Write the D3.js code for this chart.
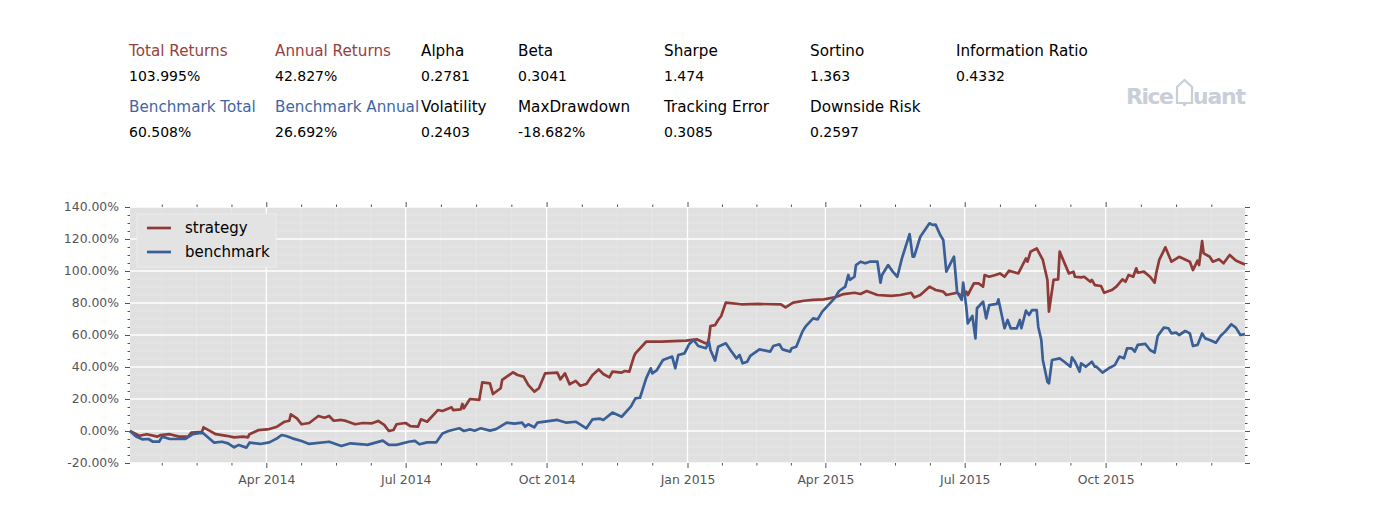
<!DOCTYPE html>
<html>
<head>
<meta charset="utf-8">
<script src="https://d3js.org/d3.v7.min.js"></script>
<style>
    body { margin: 0; background: white; }
    text { font-family: "DejaVu Sans", sans-serif; }
</style>
</head>
<body>
<script>
    // summary table
    let rowLabels1 = ["Total Returns", "Annual Returns", "Alpha", "Beta", "Sharpe", "Sortino", "Information Ratio"];
    let rowValues1 = ["103.995%", "42.827%", "0.2781", "0.3041", "1.474", "1.363", "0.4332"];
    let rowLabels2 = ["Benchmark Total", "Benchmark Annual", "Volatility", "MaxDrawdown", "Tracking Error", "Downside Risk"];
    let rowValues2 = ["60.508%", "26.692%", "0.2403", "-18.682%", "0.3085", "0.2597"];
    let colX = [129, 275, 421, 518, 664, 810, 956];

    let seriesNames = ["strategy", "benchmark"];
    let yTicks = [-20, 0, 20, 40, 60, 80, 100, 120, 140];

    // cumulative returns in %
    let strategy = [
        ["2014-01-02",0],["2014-01-08",-3],["2014-01-13",-2],["2014-01-20",-3.5],["2014-01-22",-2.5],
        ["2014-01-28",-2],["2014-02-03",-3.5],["2014-02-09",-3.5],["2014-02-11",-1],["2014-02-18",-0.5],
        ["2014-02-19",2.3],["2014-02-24",-0.4],["2014-02-27",-2],["2014-03-06",-3],["2014-03-11",-4],
        ["2014-03-17",-3.5],["2014-03-20",-4],["2014-03-21",-2],["2014-03-27",0.6],["2014-04-03",1.2],
        ["2014-04-08",2.7],["2014-04-13",5.8],["2014-04-16",6.4],["2014-04-17",10.4],["2014-04-21",7.9],
        ["2014-04-24",4.2],["2014-04-29",5.0],["2014-05-05",9.4],["2014-05-09",8.3],["2014-05-12",9.4],
        ["2014-05-15",6.4],["2014-05-20",6.9],["2014-05-23",6.3],["2014-05-29",4.2],["2014-06-03",5.0],
        ["2014-06-09",4.8],["2014-06-13",6.3],["2014-06-17",3.8],["2014-06-20",0],["2014-06-23",0.6],
        ["2014-06-25",4.2],["2014-07-01",5.0],["2014-07-04",3.1],["2014-07-09",2.7],["2014-07-11",7.3],
        ["2014-07-15",5.8],["2014-07-22",13.1],["2014-07-25",12.5],["2014-07-31",14.8],["2014-08-01",13.1],
        ["2014-08-06",13.5],["2014-08-07",16.9],["2014-08-08",14.2],["2014-08-12",20],["2014-08-18",19.4],
        ["2014-08-20",30.4],["2014-08-25",29.8],["2014-08-27",23.1],["2014-09-01",26.7],["2014-09-02",31.9],
        ["2014-09-09",36.7],["2014-09-12",35],["2014-09-16",34],["2014-09-19",28.8],["2014-09-23",24.6],
        ["2014-09-26",26.7],["2014-09-30",36],["2014-10-08",36.5],["2014-10-10",32.3],["2014-10-13",36],
        ["2014-10-16",29.2],["2014-10-20",31.3],["2014-10-23",28.3],["2014-10-27",29.4],["2014-10-31",35],
        ["2014-11-04",38.5],["2014-11-07",35.6],["2014-11-11",33.5],["2014-11-13",37.1],["2014-11-19",36.5],
        ["2014-11-21",37.5],["2014-11-24",37.1],["2014-11-27",46.5],["2014-11-28",48.5],["2014-12-05",55.8],
        ["2014-12-15",55.8],["2014-12-23",56.2],["2014-12-31",56.5],["2015-01-07",57.3],["2015-01-12",55.2],
        ["2015-01-14",54.4],["2015-01-15",57.9],["2015-01-16",65.6],["2015-01-19",66.2],["2015-01-21",69.4],
        ["2015-01-23",71.9],["2015-01-26",80.2],["2015-02-05",79.2],["2015-02-16",79.4],["2015-03-03",79.2],
        ["2015-03-06",77.3],["2015-03-11",80.2],["2015-03-18",81.4],["2015-03-24",81.9],["2015-03-31",82.3],
        ["2015-04-07",83.5],["2015-04-13",85.6],["2015-04-20",86.4],["2015-04-24",85.6],["2015-04-28",87.5],
        ["2015-05-05",85],["2015-05-14",84.4],["2015-05-20",85],["2015-05-27",86.4],["2015-05-29",83.5],
        ["2015-06-02",85],["2015-06-08",90.2],["2015-06-12",88.1],["2015-06-17",87.1],["2015-06-19",85],
        ["2015-06-26",86.4],["2015-06-29",84.4],["2015-07-02",87.1],["2015-07-03",85],["2015-07-07",92.3],
        ["2015-07-10",92.3],["2015-07-13",90.2],["2015-07-14",97.5],["2015-07-17",96.4],["2015-07-21",97.5],
        ["2015-07-24",98.5],["2015-07-27",96.4],["2015-07-30",100.2],["2015-08-05",98.5],["2015-08-10",107.9],
        ["2015-08-11",105.8],["2015-08-13",112.1],["2015-08-17",114.1],["2015-08-21",106.9],["2015-08-24",94.4],
        ["2015-08-25",74.6],["2015-08-28",94.4],["2015-08-31",94.8],["2015-09-01",112.1],["2015-09-07",98.5],
        ["2015-09-10",99.6],["2015-09-11",96.4],["2015-09-15",96],["2015-09-17",96.4],["2015-09-21",93.3],
        ["2015-09-22",94.4],["2015-09-24",91.2],["2015-09-28",90.6],["2015-09-30",86.4],["2015-10-05",88.1],
        ["2015-10-08",90.2],["2015-10-12",94.8],["2015-10-14",93.3],["2015-10-16",97.5],["2015-10-19",96.4],
        ["2015-10-21",101.7],["2015-10-22",98.9],["2015-10-26",99.6],["2015-10-30",96.4],["2015-11-02",92.7],
        ["2015-11-03",98.5],["2015-11-05",106.9],["2015-11-09",114.8],["2015-11-13",105.8],["2015-11-18",108.9],
        ["2015-11-25",105.8],["2015-11-27",100.6],["2015-11-30",106.5],["2015-12-01",103.7],["2015-12-03",118.7],
        ["2015-12-04",111],["2015-12-08",108.9],["2015-12-10",105.8],["2015-12-14",107.3],["2015-12-17",104.8],
        ["2015-12-21",110],["2015-12-25",106.5],["2015-12-29",104.8],["2015-12-31",104.0]
    ];

    let benchmark = [
        ["2014-01-02",0],["2014-01-06",-3.5],["2014-01-10",-5.2],["2014-01-14",-5],["2014-01-17",-6.7],
        ["2014-01-21",-6.7],["2014-01-23",-3.5],["2014-01-28",-5],["2014-02-03",-5],["2014-02-07",-5],
        ["2014-02-12",-2],["2014-02-17",-1.2],["2014-02-19",-1.5],["2014-02-26",-7.3],["2014-03-03",-6.7],
        ["2014-03-07",-7.7],["2014-03-11",-10.2],["2014-03-14",-8.7],["2014-03-19",-10.4],["2014-03-21",-7.3],
        ["2014-03-28",-8.1],["2014-04-03",-7.1],["2014-04-08",-4.6],["2014-04-11",-2.5],["2014-04-14",-3.1],
        ["2014-04-18",-4.6],["2014-04-24",-6.3],["2014-04-29",-8.1],["2014-05-12",-6.7],["2014-05-20",-9.4],
        ["2014-05-26",-7.7],["2014-06-03",-8.3],["2014-06-06",-8.7],["2014-06-16",-6.0],["2014-06-20",-8.7],
        ["2014-06-25",-8.7],["2014-07-03",-6.7],["2014-07-07",-6.2],["2014-07-10",-8.3],["2014-07-15",-7.1],
        ["2014-07-21",-7.1],["2014-07-25",-1.5],["2014-07-29",0],["2014-08-05",1.7],["2014-08-08",0],
        ["2014-08-12",1.0],["2014-08-15",0.2],["2014-08-19",1.7],["2014-08-25",0.2],["2014-08-29",1.2],
        ["2014-09-05",5.2],["2014-09-10",4.6],["2014-09-15",5.2],["2014-09-17",2.7],["2014-09-19",4.2],
        ["2014-09-23",2.3],["2014-09-25",5.2],["2014-10-08",6.9],["2014-10-14",5.2],["2014-10-20",5.8],
        ["2014-10-27",1.7],["2014-10-31",7.3],["2014-11-05",7.7],["2014-11-07",6.9],["2014-11-13",11.5],
        ["2014-11-19",8.9],["2014-11-25",15.2],["2014-11-28",20.4],["2014-12-01",20.8],["2014-12-05",32.9],
        ["2014-12-08",39.2],["2014-12-09",36],["2014-12-12",38.1],["2014-12-16",44.4],["2014-12-22",46.5],
        ["2014-12-24",39.2],["2014-12-26",47.5],["2014-12-30",48.5],["2015-01-02",54.2],["2015-01-05",56.9],
        ["2015-01-08",53.1],["2015-01-13",51.7],["2015-01-15",55.8],["2015-01-16",50.6],["2015-01-19",44],
        ["2015-01-21",52.7],["2015-01-26",54.8],["2015-01-29",50.6],["2015-02-02",45.4],["2015-02-04",47.5],
        ["2015-02-06",42.3],["2015-02-09",43.3],["2015-02-11",46.9],["2015-02-17",51],["2015-02-24",49.6],
        ["2015-02-26",53.1],["2015-03-02",54.2],["2015-03-04",51],["2015-03-09",49.6],["2015-03-10",51.7],
        ["2015-03-13",52.7],["2015-03-17",62.1],["2015-03-19",65.2],["2015-03-24",70.4],["2015-03-27",69.8],
        ["2015-03-30",74.6],["2015-04-02",77.7],["2015-04-07",82.9],["2015-04-10",87.5],["2015-04-14",90.2],
        ["2015-04-16",97.5],["2015-04-17",94.4],["2015-04-20",96.4],["2015-04-21",103.7],["2015-04-24",105.8],
        ["2015-04-27",104.8],["2015-04-30",105.8],["2015-05-05",105.8],["2015-05-07",92.7],["2015-05-08",97.5],
        ["2015-05-12",103.7],["2015-05-15",99.6],["2015-05-18",96.4],["2015-05-21",107.9],["2015-05-26",123.1],
        ["2015-05-28",109],["2015-05-29",109],["2015-06-02",121.4],["2015-06-08",129.8],["2015-06-10",128.8],
        ["2015-06-12",129],["2015-06-15",122.5],["2015-06-17",119.4],["2015-06-19",99.6],["2015-06-24",109],
        ["2015-06-26",87.1],["2015-06-29",81.9],["2015-06-30",92.7],["2015-07-02",77.7],["2015-07-03",67.3],
        ["2015-07-06",71.9],["2015-07-08",57.9],["2015-07-09",76.7],["2015-07-13",80.8],["2015-07-15",70.4],
        ["2015-07-17",78.7],["2015-07-22",79.4],["2015-07-23",82.3],["2015-07-27",64.2],["2015-07-29",69.4],
        ["2015-07-31",64.2],["2015-08-04",64.2],["2015-08-06",69.4],["2015-08-07",64.2],["2015-08-10",75.2],
        ["2015-08-12",72.5],["2015-08-14",75.6],["2015-08-17",75.6],["2015-08-18",65.2],["2015-08-20",56.9],
        ["2015-08-21",44.4],["2015-08-24",30.8],["2015-08-25",29.8],["2015-08-27",44.4],["2015-09-01",45.4],
        ["2015-09-04",43.3],["2015-09-08",40.2],["2015-09-09",46],["2015-09-11",43.3],["2015-09-14",37.1],
        ["2015-09-15",42.3],["2015-09-18",40.2],["2015-09-22",43.3],["2015-09-24",40.2],["2015-09-25",40.2],
        ["2015-09-29",36.5],["2015-10-03",39.2],["2015-10-07",41.2],["2015-10-10",46.5],["2015-10-13",45.4],
        ["2015-10-15",51.7],["2015-10-18",51.7],["2015-10-20",49.6],["2015-10-22",53.8],["2015-10-27",54.4],
        ["2015-10-30",50.6],["2015-11-02",49],["2015-11-04",59.4],["2015-11-08",64.6],["2015-11-11",64.2],
        ["2015-11-13",61],["2015-11-16",61.5],["2015-11-18",60],["2015-11-22",62.5],["2015-11-25",61],
        ["2015-11-27",53.1],["2015-11-30",53.8],["2015-12-03",61],["2015-12-05",57.9],["2015-12-08",56.9],
        ["2015-12-12",55.2],["2015-12-15",59.4],["2015-12-18",62.1],["2015-12-22",66.7],["2015-12-25",64.6],
        ["2015-12-28",60],["2015-12-31",60.5]
    ];

    let red = "#8e3a37", blue = "#3a5f97";
    let labelRed = "#97413d", labelBlue = "#3e66a6";

    let parse = d3.timeParse("%Y-%m-%d");
    let svg = d3.select("body").append("svg").attr("width", 1389).attr("height", 521);

    // header table
    let head = svg.append("g");
    rowLabels1.forEach((t, i) => {
        head.append("text").attr("x", colX[i]).attr("y", 56).attr("font-size", 15.2)
            .attr("fill", i < 2 ? labelRed : "#000").text(t);
        head.append("text").attr("x", colX[i]).attr("y", 81).attr("font-size", 14).text(rowValues1[i]);
    });
    rowLabels2.forEach((t, i) => {
        head.append("text").attr("x", colX[i]).attr("y", 112).attr("font-size", 15.2)
            .attr("fill", i < 2 ? labelBlue : "#000").text(t);
        head.append("text").attr("x", colX[i]).attr("y", 137).attr("font-size", 14).text(rowValues2[i]);
    });

    // logo
    let logoColor = "#c9ced7";
    let logo = svg.append("g").attr("fill", logoColor);
    logo.append("text").attr("x", 1126).attr("y", 104).attr("font-size", 22).attr("font-weight", 600)
        .attr("font-family", "Open Sans").attr("textLength", 48).text("Rice");
    logo.append("text").attr("x", 1193).attr("y", 104).attr("font-size", 22).attr("font-weight", 600)
        .attr("font-family", "Open Sans").attr("textLength", 53).text("uant");
    logo.append("path")
        .attr("d", "M1177,103 L1177,87 L1184.5,80 L1192,87 L1192,103 Z")
        .attr("fill", "none").attr("stroke", logoColor).attr("stroke-width", 2.2);
    logo.append("rect").attr("x", 1183).attr("y", 103).attr("width", 3).attr("height", 3);

    // plot
    let plotLeft = 130, plotTop = 207, w = 1115, h = 256;
    let x = d3.scaleTime().domain([parse("2014-01-02"), parse("2015-12-31")]).range([plotLeft, plotLeft + w]);
    let y = d3.scaleLinear().domain([-20, 140]).range([plotTop + h, plotTop]);

    svg.append("rect").attr("x", plotLeft).attr("y", plotTop).attr("width", w).attr("height", h).attr("fill", "#e0e0e0");

    // ticks: quarterly majors, 4 subdivisions
    let majors = x.ticks(d3.timeMonth.every(3));
    let minors = [];
    for (let i = 0; i < majors.length - 1; i++) {
        let a = +majors[i], b = +majors[i + 1];
        for (let k = 1; k < 4; k++) minors.push(new Date(a + (b - a) * k / 4));
    }
    let step0 = (+majors[1] - +majors[0]) / 4, stepN = (+majors[majors.length - 1] - +majors[majors.length - 2]) / 4;
    for (let t = +majors[0] - step0; t >= +x.domain()[0]; t -= step0) minors.push(new Date(t));
    for (let t = +majors[majors.length - 1] + stepN; t <= +x.domain()[1]; t += stepN) minors.push(new Date(t));

    let yMinors = d3.range(-20, 141, 5).filter(v => v % 20 != 0);

    let grid = svg.append("g");
    minors.forEach(d => grid.append("line").attr("x1", x(d)).attr("x2", x(d)).attr("y1", plotTop).attr("y2", plotTop + h)
        .attr("stroke", "#e9e9e9").attr("stroke-width", 0.8));
    yMinors.forEach(v => grid.append("line").attr("x1", plotLeft).attr("x2", plotLeft + w).attr("y1", y(v)).attr("y2", y(v))
        .attr("stroke", "#e9e9e9").attr("stroke-width", 0.8));
    majors.forEach(d => grid.append("line").attr("x1", x(d)).attr("x2", x(d)).attr("y1", plotTop).attr("y2", plotTop + h)
        .attr("stroke", "white").attr("stroke-width", 1.3));
    yTicks.forEach(v => grid.append("line").attr("x1", plotLeft).attr("x2", plotLeft + w).attr("y1", y(v)).attr("y2", y(v))
        .attr("stroke", "white").attr("stroke-width", 1.3));

    let fmt = d3.timeFormat("%b %Y");
    let styleAxis = g => {
        g.select(".domain").remove();
        g.selectAll("line").attr("stroke", "#555");
        g.selectAll("text").attr("fill", "#555").attr("font-size", 12.4).attr("font-family", "DejaVu Sans");
    };
    svg.append("g").attr("transform", `translate(0,${plotTop + h})`)
        .call(d3.axisBottom(x).tickValues(majors).tickFormat(fmt).tickSize(5).tickPadding(7)).call(styleAxis);
    svg.append("g").attr("transform", `translate(0,${plotTop + h})`)
        .call(d3.axisBottom(x).tickValues(minors).tickFormat("").tickSize(2.5)).call(styleAxis);
    svg.append("g").attr("transform", `translate(0,${plotTop})`)
        .call(d3.axisTop(x).tickValues(majors).tickFormat("").tickSize(5)).call(styleAxis);
    svg.append("g").attr("transform", `translate(0,${plotTop})`)
        .call(d3.axisTop(x).tickValues(minors).tickFormat("").tickSize(2.5)).call(styleAxis);
    svg.append("g").attr("transform", `translate(${plotLeft},0)`)
        .call(d3.axisLeft(y).tickValues(yTicks).tickFormat(v => v.toFixed(2) + "%").tickSize(5).tickPadding(6)).call(styleAxis);
    svg.append("g").attr("transform", `translate(${plotLeft},0)`)
        .call(d3.axisLeft(y).tickValues(yMinors).tickFormat("").tickSize(2.5)).call(styleAxis);
    svg.append("g").attr("transform", `translate(${plotLeft + w},0)`)
        .call(d3.axisRight(y).tickValues(yTicks).tickFormat("").tickSize(5)).call(styleAxis);
    svg.append("g").attr("transform", `translate(${plotLeft + w},0)`)
        .call(d3.axisRight(y).tickValues(yMinors).tickFormat("").tickSize(2.5)).call(styleAxis);

    // lines
    let line = d3.line().x(d => x(parse(d[0]))).y(d => y(d[1]));
    [[strategy, red], [benchmark, blue]].forEach(([data, color]) => {
        svg.append("path").datum(data).attr("d", line)
            .attr("fill", "none").attr("stroke", color).attr("stroke-width", 2.7)
            .attr("stroke-linejoin", "round");
    });

    // legend
    let lg = svg.append("g");
    lg.append("rect").attr("x", 137).attr("y", 214).attr("width", 139).attr("height", 53)
        .attr("fill", "#e3e3e3").attr("stroke", "#ececec");
    seriesNames.forEach((n, i) => {
        let yy = 228 + i * 24;
        lg.append("line").attr("x1", 147).attr("x2", 171).attr("y1", yy).attr("y2", yy)
            .attr("stroke", i == 0 ? red : blue).attr("stroke-width", 2.7);
        lg.append("text").attr("x", 185).attr("y", yy).attr("dy", "0.35em").attr("font-size", 15).text(n);
    });
</script>
</body>
</html>
